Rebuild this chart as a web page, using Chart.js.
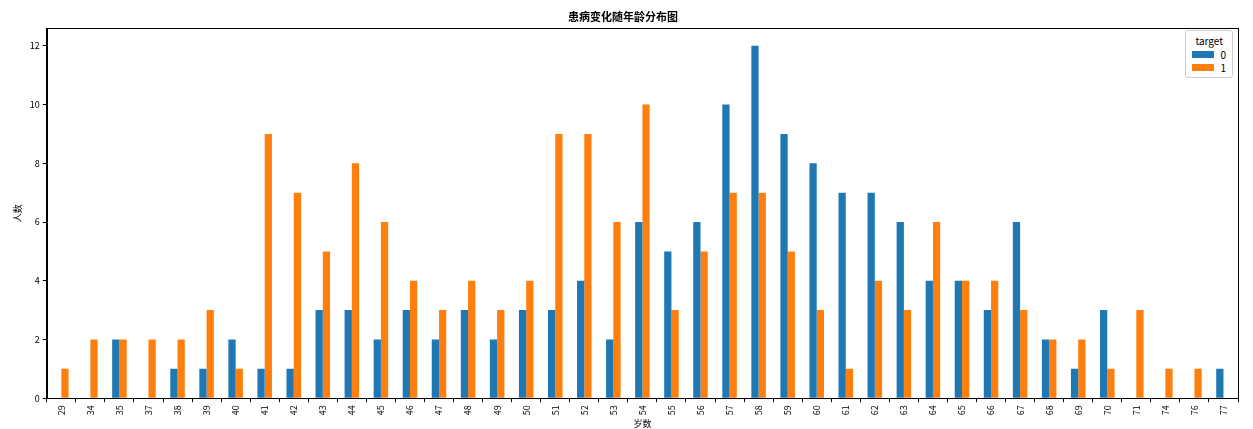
<!DOCTYPE html>
<html><head><meta charset="utf-8">
<script src="https://cdn.jsdelivr.net/npm/chart.js@4/dist/chart.umd.min.js"></script>
<style>
body{margin:0;background:#fff;font-family:"Noto Sans CJK SC",sans-serif}
#wrap{position:relative;width:1253px;height:429px}
#leg{position:absolute;right:20px;top:30px;border:1px solid #ccc;border-radius:3px;background:#fff;font-size:10px;padding:2px 6px 3px 6px;color:#000}
#leg .t{text-align:center}
#leg .r{display:flex;align-items:center;gap:6px;height:13px}
#leg .b{width:22px;height:7px}
</style></head><body>
<div id="wrap"><canvas id="c" width="1253" height="429"></canvas>
<div id="leg"><div class="t">target</div>
<div class="r"><span class="b" style="background:#1f77b4"></span>0</div>
<div class="r"><span class="b" style="background:#ff7f0e"></span>1</div></div></div>
<script>
const ages = ['29','34','35','37','38','39','40','41','42','43','44','45','46','47','48','49','50','51','52','53','54','55','56','57','58','59','60','61','62','63','64','65','66','67','68','69','70','71','74','76','77'];
const target0 = [0,0,2,0,1,1,2,1,1,3,3,2,3,2,3,2,3,3,4,2,6,5,6,10,12,9,8,7,7,6,4,4,3,6,2,1,3,0,0,0,1];
const target1 = [1,2,2,2,2,3,1,9,7,5,8,6,4,3,4,3,4,9,9,6,10,3,5,7,7,5,3,1,4,3,6,4,4,3,2,2,1,3,1,1,0];
const yTicks = [0,2,4,6,8,10,12];

const font = {family:'"Noto Sans CJK SC", sans-serif', size:9};
const frame = {id:'frame', afterDraw(ch){
  const a = ch.chartArea, g = ch.ctx;
  g.save(); g.strokeStyle='#000'; g.lineWidth=1;
  g.strokeRect(Math.round(a.left)+0.5, Math.round(a.top)+0.5, Math.round(a.right-a.left), Math.round(a.bottom-a.top));
  g.restore();
}};
new Chart(document.getElementById('c'), {
  type:'bar',
  data:{labels:ages, datasets:[
    {label:'0', data:target0, backgroundColor:'#1f77b4', categoryPercentage:0.5, barPercentage:1},
    {label:'1', data:target1, backgroundColor:'#ff7f0e', categoryPercentage:0.5, barPercentage:1}
  ]},
  options:{responsive:false, animation:false,
    layout:{padding:{left:8,right:15,top:0,bottom:0}},
    plugins:{legend:{display:false}, tooltip:{enabled:false},
      title:{display:true, text:'患病变化随年龄分布图', color:'#000', font:{...font,size:11}, padding:{top:10,bottom:5}}},
    scales:{
      x:{grid:{drawOnChartArea:false, color:'#000', tickLength:4}, border:{color:'#000'},
        ticks:{color:'#000', font:font, maxRotation:90, minRotation:90, autoSkip:false},
        title:{display:true, text:'岁数', color:'#000', font:font, padding:0}},
      y:{min:0, max:12.6, grid:{drawOnChartArea:false, color:'#000', tickLength:4}, border:{color:'#000'},
        afterBuildTicks(ax){ax.ticks = yTicks.map(v=>({value:v}));},
        ticks:{color:'#000', font:font},
        title:{display:true, text:'人数', color:'#000', font:font}}
    }
  },
  plugins:[frame]
});
</script></body></html>
